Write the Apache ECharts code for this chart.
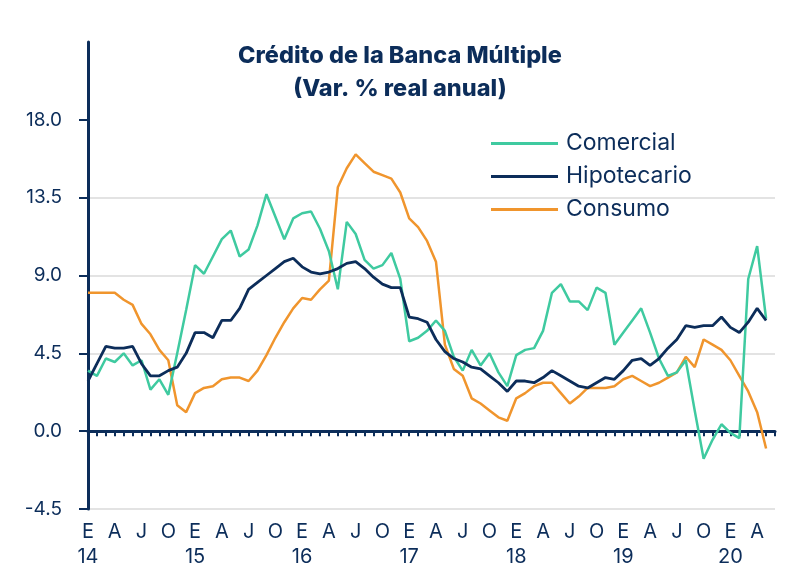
<!DOCTYPE html>
<html>
<head>
<meta charset="utf-8">
<script src="https://cdn.jsdelivr.net/npm/echarts@6/dist/echarts.min.js"></script>
<style>
  html, body { margin: 0; padding: 0; background: #fff; }
  #main { width: 800px; height: 586px; }
</style>
</head>
<body>
<div id="main"></div>
<script>
// años y meses del eje (ene-2014 a jun-2020)
const anios = ['14', '15', '16', '17', '18', '19', '20'];
const inicialMes = { 0: 'E', 3: 'A', 6: 'J', 9: 'O' };
const nMeses = 78;

const ticksY = [-4.5, 0, 4.5, 9, 13.5, 18];

// Var. % real anual, mensual desde enero 2014
const comercial = [
  3.5, 3.2, 4.2, 4.0, 4.5, 3.8, 4.1, 2.4, 3.0, 2.1, 4.5, 7.0,
  9.6, 9.1, 10.1, 11.1, 11.6, 10.1, 10.5, 11.9, 13.7, 12.4, 11.1, 12.3,
  12.6, 12.7, 11.7, 10.4, 8.2, 12.1, 11.4, 9.9, 9.4, 9.6, 10.3, 8.8,
  5.2, 5.4, 5.8, 6.4, 5.8, 4.3, 3.5, 4.7, 3.8, 4.5, 3.4, 2.6,
  4.4, 4.7, 4.8, 5.8, 8.0, 8.5, 7.5, 7.5, 7.0, 8.3, 8.0, 5.0,
  5.7, 6.4, 7.1, 5.7, 4.2, 3.2, 3.4, 4.1, 1.2, -1.6, -0.5, 0.4,
  -0.1, -0.4, 8.8, 10.7, 6.5
];
const hipotecario = [
  2.9, 3.9, 4.9, 4.8, 4.8, 4.9, 3.9, 3.2, 3.2, 3.5, 3.7, 4.5,
  5.7, 5.7, 5.4, 6.4, 6.4, 7.1, 8.2, 8.6, 9.0, 9.4, 9.8, 10.0,
  9.5, 9.2, 9.1, 9.2, 9.4, 9.7, 9.8, 9.4, 8.9, 8.5, 8.3, 8.3,
  6.6, 6.5, 6.3, 5.3, 4.6, 4.2, 4.0, 3.7, 3.6, 3.2, 2.8, 2.3,
  2.9, 2.9, 2.8, 3.1, 3.5, 3.2, 2.9, 2.6, 2.5, 2.8, 3.1, 3.0,
  3.5, 4.1, 4.2, 3.8, 4.2, 4.8, 5.3, 6.1, 6.0, 6.1, 6.1, 6.6,
  6.0, 5.7, 6.3, 7.1, 6.4
];
const consumo = [
  8.0, 8.0, 8.0, 8.0, 7.6, 7.3, 6.2, 5.6, 4.7, 4.1, 1.5, 1.1,
  2.2, 2.5, 2.6, 3.0, 3.1, 3.1, 2.9, 3.5, 4.4, 5.4, 6.3, 7.1,
  7.7, 7.6, 8.2, 8.7, 14.1, 15.2, 16.0, 15.5, 15.0, 14.8, 14.6, 13.8,
  12.3, 11.8, 11.0, 9.8, 5.0, 3.6, 3.2, 1.9, 1.6, 1.2, 0.8, 0.6,
  1.9, 2.2, 2.6, 2.8, 2.8, 2.2, 1.6, 2.0, 2.5, 2.5, 2.5, 2.6,
  3.0, 3.2, 2.9, 2.6, 2.8, 3.1, 3.4, 4.3, 3.7, 5.3, 5.0, 4.7,
  4.1, 3.2, 2.3, 1.1, -1.0
];

const categorias = [];
for (let i = 0; i < nMeses; i++) {
  categorias.push('20' + anios[Math.floor(i / 12)] + '-' + (i % 12 + 1));
}

const azul = '#0c2d5a';
const fuente = 'Inter';

let myChart = echarts.init(document.getElementById('main'));
let option = {
  animation: false,
  title: {
    text: 'Crédito de la Banca Múltiple\n(Var. % real anual)',
    left: 'center',
    top: 34,
    textStyle: { fontFamily: fuente, fontWeight: 800, fontSize: 23.5, lineHeight: 33, color: azul }
  },
  legend: {
    orient: 'vertical',
    left: 486,
    top: 127,
    icon: 'rect',
    itemWidth: 67,
    itemHeight: 3,
    itemGap: 10,
    textStyle: { fontFamily: fuente, fontSize: 23, lineHeight: 22, color: azul, padding: [0, 0, 0, 3] },
    data: ['Comercial', 'Hipotecario', 'Consumo']
  },
  grid: { left: 88, right: 25, top: 42, bottom: 77, outerBoundsMode: 'none', containLabel: false },
  xAxis: {
    type: 'category',
    data: categorias,
    boundaryGap: false,
    axisLine: { onZero: true, lineStyle: { color: azul, width: 3 } },
    axisTick: { interval: 0, length: 5, lineStyle: { color: azul, width: 2 } },
    axisLabel: {
      interval: 0,
      margin: 10,
      fontFamily: fuente,
      fontSize: 20,
      lineHeight: 25,
      color: azul,
      formatter: function (v, i) {
        const m = i % 12;
        if (!(m in inicialMes)) return '';
        if (m === 0) return inicialMes[m] + '\n' + anios[Math.floor(i / 12)];
        return inicialMes[m];
      }
    },
    splitLine: { show: false }
  },
  yAxis: {
    type: 'value',
    min: -4.5,
    max: 22.5,
    interval: 4.5,
    axisLine: { show: true, lineStyle: { color: azul, width: 3 } },
    axisTick: { show: true, length: 9, customValues: ticksY, lineStyle: { color: azul, width: 2 } },
    axisLabel: {
      customValues: ticksY,
      margin: 26,
      fontFamily: fuente,
      fontSize: 19,
      color: azul,
      formatter: v => v.toFixed(1)
    },
    splitLine: { show: true, showMaxLine: false, lineStyle: { color: '#e3e3e3', width: 2 } }
  },
  series: [
    { name: 'Comercial', type: 'line', data: comercial, symbol: 'none', color: '#3fcaa0', lineStyle: { width: 2.5 }, z: 3 },
    { name: 'Hipotecario', type: 'line', data: hipotecario, symbol: 'none', color: azul, lineStyle: { width: 2.8 }, z: 4 },
    { name: 'Consumo', type: 'line', data: consumo, symbol: 'none', color: '#f0952d', lineStyle: { width: 2.5 }, z: 2 }
  ]
};
myChart.setOption(option);
</script>
</body>
</html>
